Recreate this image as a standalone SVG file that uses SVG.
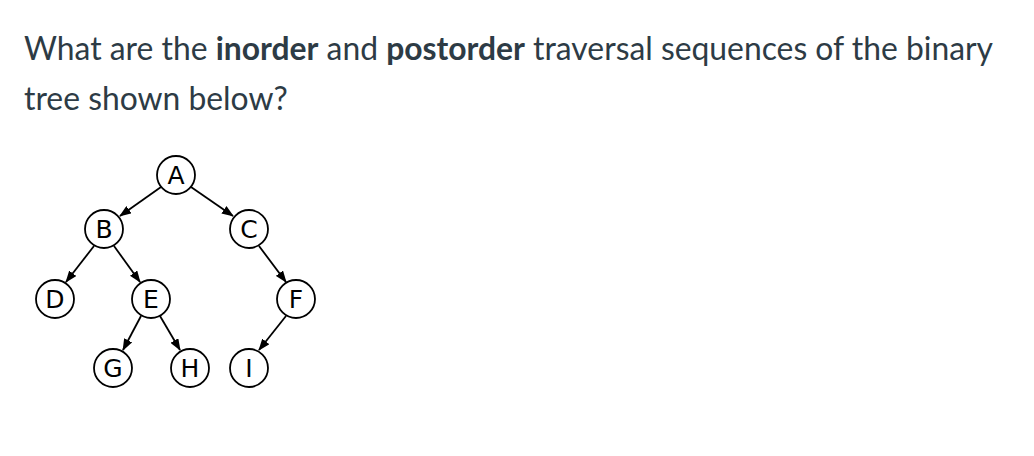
<svg xmlns="http://www.w3.org/2000/svg" width="1034" height="456" viewBox="0 0 1034 456">
<style>
.q{font-family:Lato,"Liberation Sans",sans-serif;font-size:31.85px;fill:#2d3b45}
.b{font-weight:bold}
.n circle{fill:#fff;stroke:#000;stroke-width:1.8}
.n text{font-family:"DejaVu Sans",sans-serif;font-size:25px;fill:#000;text-anchor:middle}
.e line{stroke:#000;stroke-width:1.8;marker-end:url(#ah)}
</style>
<defs>
<marker id="ah" markerWidth="12" markerHeight="9" refX="11" refY="4.5" orient="auto" markerUnits="userSpaceOnUse">
<path d="M0,0 L12,4.5 L0,9 z" fill="#000"/>
</marker>
</defs>
<rect width="1034" height="456" fill="#fff"/>
<text class="q" x="24" y="60">What are the <tspan class="b">inorder</tspan> and <tspan class="b">postorder</tspan> traversal sequences of the binary</text>
<text class="q" x="24" y="110">tree shown below?</text>
<g class="e">
<line x1="161" y1="187" x2="120" y2="216"/>
<line x1="191" y1="187" x2="233" y2="216"/>
<line x1="94" y1="246" x2="66" y2="282"/>
<line x1="114" y1="246" x2="140" y2="282"/>
<line x1="259" y1="246" x2="286" y2="282"/>
<line x1="141" y1="316" x2="123" y2="350"/>
<line x1="160" y1="316" x2="180" y2="350"/>
<line x1="286" y1="316" x2="259" y2="350"/>
</g>
<g class="n" id="A"><circle cx="176" cy="175" r="19"/><text x="176" y="184">A</text></g>
<g class="n" id="B"><circle cx="104" cy="229" r="19"/><text x="104" y="238">B</text></g>
<g class="n" id="C"><circle cx="249" cy="229" r="19"/><text x="249" y="238">C</text></g>
<g class="n" id="D"><circle cx="55" cy="299" r="19"/><text x="55" y="308">D</text></g>
<g class="n" id="E"><circle cx="151" cy="299" r="19"/><text x="151" y="308">E</text></g>
<g class="n" id="F"><circle cx="296" cy="299" r="19"/><text x="296" y="308">F</text></g>
<g class="n" id="G"><circle cx="113" cy="368" r="19"/><text x="113" y="377">G</text></g>
<g class="n" id="H"><circle cx="190" cy="368" r="19"/><text x="190" y="377">H</text></g>
<g class="n" id="I"><circle cx="249" cy="368" r="19"/><text x="249" y="377">I</text></g>
</svg>
